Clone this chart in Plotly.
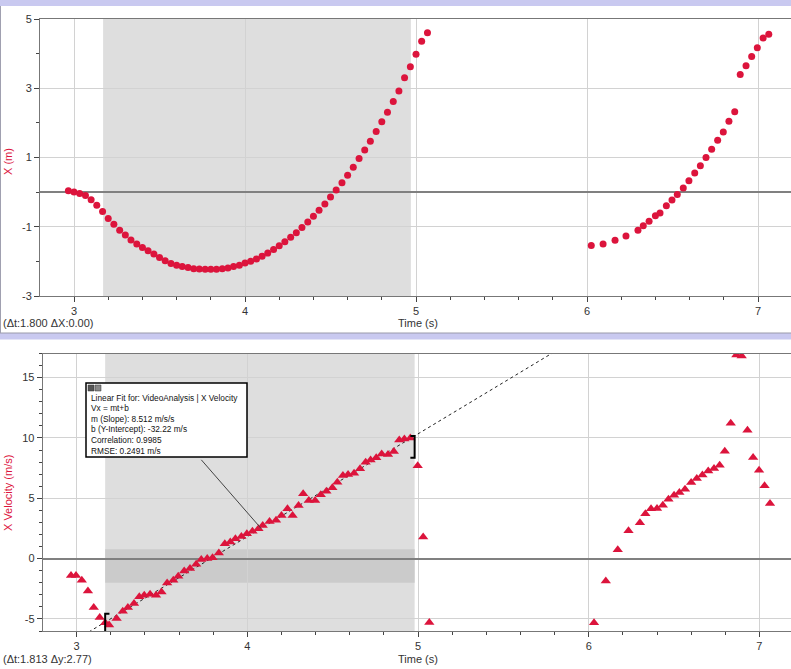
import plotly.graph_objects as go

W, H = 791, 669

# ---------------- data ----------------
# Top panel: X position (m) vs time (s)
t_pos1 = [2.967, 3.000, 3.033, 3.067, 3.100, 3.133, 3.167, 3.200, 3.233, 3.267,
          3.300, 3.333, 3.367, 3.400, 3.433, 3.467, 3.500, 3.533, 3.567, 3.600,
          3.633, 3.667, 3.700, 3.733, 3.767, 3.800, 3.833, 3.867, 3.900, 3.933,
          3.967, 4.000, 4.033, 4.067, 4.100, 4.133, 4.167, 4.200, 4.233, 4.267,
          4.300, 4.333, 4.367, 4.400, 4.433, 4.467, 4.500, 4.533, 4.567, 4.600,
          4.633, 4.667, 4.700, 4.733, 4.767, 4.800, 4.833, 4.867, 4.900, 4.933,
          4.967, 5.000, 5.033, 5.067]
x_pos1 = [0.04, 0.00, -0.04, -0.10, -0.22, -0.38, -0.56, -0.76, -0.93, -1.10,
          -1.24, -1.38, -1.50, -1.60, -1.69, -1.79, -1.89, -1.98, -2.06, -2.11,
          -2.15, -2.18, -2.21, -2.22, -2.23, -2.23, -2.23, -2.21, -2.19, -2.15,
          -2.11, -2.05, -2.00, -1.93, -1.85, -1.76, -1.66, -1.55, -1.43, -1.30,
          -1.17, -1.02, -0.86, -0.70, -0.52, -0.34, -0.14, 0.06, 0.27, 0.49,
          0.72, 0.97, 1.22, 1.47, 1.75, 2.03, 2.31, 2.62, 2.92, 3.30,
          3.62, 3.98, 4.36, 4.60]
t_pos2 = [6.025, 6.094, 6.164, 6.228, 6.298, 6.329, 6.363, 6.400, 6.427, 6.464,
          6.497, 6.528, 6.563, 6.596, 6.630, 6.663, 6.696, 6.729, 6.764, 6.797,
          6.830, 6.864, 6.896, 6.930, 6.963, 6.996, 7.030, 7.063]
x_pos2 = [-1.54, -1.50, -1.39, -1.27, -1.10, -0.97, -0.84, -0.68, -0.60, -0.39,
          -0.23, -0.07, 0.12, 0.33, 0.55, 0.76, 1.00, 1.24, 1.50, 1.74,
          2.05, 2.32, 3.40, 3.65, 3.92, 4.17, 4.45, 4.56]

# Bottom panel: X velocity (m/s) vs time (s)
t_vel1 = [2.967, 2.996, 3.030, 3.066, 3.100, 3.135, 3.167, 3.190, 3.234, 3.270,
          3.300, 3.336, 3.367, 3.396, 3.430, 3.465, 3.497, 3.530, 3.566, 3.595,
          3.630, 3.664, 3.700, 3.730, 3.765, 3.796, 3.833, 3.868, 3.900, 3.930,
          3.965, 3.997, 4.030, 4.065, 4.090, 4.130, 4.168, 4.200, 4.235, 4.265,
          4.300, 4.327, 4.360, 4.397, 4.430, 4.463, 4.498, 4.527, 4.560, 4.590,
          4.625, 4.660, 4.693, 4.722, 4.755, 4.787, 4.824, 4.858, 4.890, 4.920,
          4.955, 4.998, 5.030, 5.066]
v_vel1 = [-1.40, -1.40, -1.79, -2.68, -4.05, -4.88, -5.32, -5.51, -4.96, -4.36,
          -4.05, -3.72, -3.17, -3.03, -2.95, -3.03, -2.76, -2.02, -1.79, -1.46,
          -1.02, -0.83, -0.47, -0.08, 0.00, 0.08, 0.46, 1.24, 1.37, 1.65,
          1.84, 2.07, 2.26, 2.48, 2.75, 3.08, 3.17, 3.58, 4.13, 3.58,
          4.40, 5.37, 4.82, 4.82, 5.29, 5.59, 5.87, 6.33, 6.88, 6.97,
          7.07, 7.44, 7.98, 8.18, 8.35, 8.68, 8.62, 8.87, 9.83, 9.92,
          10.00, 7.70, 1.80, -5.30]
t_vel2 = [6.031, 6.100, 6.170, 6.233, 6.300, 6.332, 6.365, 6.400, 6.434, 6.467,
          6.500, 6.531, 6.564, 6.600, 6.633, 6.666, 6.700, 6.734, 6.767, 6.797,
          6.832, 6.865, 6.896, 6.930, 6.963, 6.998, 7.030, 7.062]
v_vel2 = [-5.32, -1.85, 0.74, 2.31, 2.98, 3.72, 4.13, 4.16, 4.43, 4.93,
          5.26, 5.48, 5.75, 6.31, 6.64, 6.94, 7.27, 7.46, 7.74, 8.89,
          11.21, 16.88, 16.80, 10.63, 8.37, 7.32, 6.03, 4.57]

# Linear fit and selections
fit_slope = 8.512
fit_intercept = -32.22
fit_start, fit_end = 3.167, 4.980
top_sel = (3.170, 4.970)
band_y = (-2.00, 0.77)

fit_lines = ["Linear Fit for: VideoAnalysis | X Velocity",
             "Vx = mt+b",
             "m (Slope): 8.512 m/s/s",
             "b (Y-Intercept): -32.22 m/s",
             "Correlation: 0.9985",
             "RMSE: 0.2491 m/s"]

top_yticks = [-3, -1, 1, 3, 5]
bot_yticks = [-5, 0, 5, 10, 15]
xticks = [3, 4, 5, 6, 7]

# ---------------- styling ----------------
RED = "#dc143c"
FONT = "Liberation Sans"
TXT = "#333333"

def px(x):
    return x / W

def py(y):
    return 1 - y / H

fig = go.Figure()

fig.add_trace(go.Scatter(x=t_pos1, y=x_pos1, mode="markers", xaxis="x", yaxis="y",
                         marker=dict(symbol="circle", size=7, color=RED)))
fig.add_trace(go.Scatter(x=t_pos2, y=x_pos2, mode="markers", xaxis="x", yaxis="y",
                         marker=dict(symbol="circle", size=7, color=RED)))

fx = [2.80, 7.20]
fig.add_trace(go.Scatter(x=fx, y=[fit_slope * v + fit_intercept for v in fx], mode="lines",
                         xaxis="x2", yaxis="y2",
                         line=dict(color="#222222", width=1, dash="dot")))

fig.add_trace(go.Scatter(x=t_vel1, y=v_vel1, mode="markers", xaxis="x2", yaxis="y2",
                         marker=dict(symbol="triangle-up", size=9, color=RED)))
fig.add_trace(go.Scatter(x=t_vel2, y=v_vel2, mode="markers", xaxis="x2", yaxis="y2",
                         marker=dict(symbol="triangle-up", size=9, color=RED)))

# brackets at fit ends
ys = fit_slope * fit_start + fit_intercept
ye = fit_slope * fit_end + fit_intercept
dx = 0.025
fig.add_trace(go.Scatter(x=[fit_start + dx, fit_start, fit_start, fit_start + dx],
                         y=[ys + 0.7, ys + 0.7, ys - 0.95, ys - 0.95], mode="lines",
                         xaxis="x2", yaxis="y2", line=dict(color="black", width=2)))
fig.add_trace(go.Scatter(x=[fit_end - dx, fit_end, fit_end, fit_end - dx],
                         y=[ye, ye, ye - 1.8, ye - 1.8], mode="lines",
                         xaxis="x2", yaxis="y2", line=dict(color="black", width=2)))

axis_common = dict(showline=True, linecolor="#777777", linewidth=1, automargin=False,
                   ticks="outside", tickcolor="#444444", ticklen=5,
                   gridcolor="#d2d2d2", gridwidth=1,
                   tickfont=dict(family=FONT, size=11, color=TXT))

shapes = [
    dict(type="rect", xref="x", yref="y domain", x0=top_sel[0], x1=top_sel[1], y0=0, y1=1,
         fillcolor="#dedede", line=dict(width=0), layer="below"),
    dict(type="rect", xref="x2", yref="y2 domain", x0=fit_start, x1=fit_end, y0=0, y1=1,
         fillcolor="#dedede", line=dict(width=0), layer="below"),
    dict(type="rect", xref="x2", yref="y2", x0=fit_start, x1=fit_end, y0=band_y[0], y1=band_y[1],
         fillcolor="#cbcbcb", line=dict(width=0), layer="below"),
    # window decorations
    dict(type="rect", xref="paper", yref="paper", x0=0, x1=1, y0=py(6), y1=1,
         fillcolor="#c9c9f0", line=dict(width=0)),
    dict(type="rect", xref="paper", yref="paper", x0=0, x1=1, y0=py(339.5), y1=py(333),
         fillcolor="#c9c9f0", line=dict(width=0)),
    dict(type="line", xref="paper", yref="paper", x0=0, x1=1, y0=py(333), y1=py(333),
         line=dict(color="#9a9aaa", width=1)),
    dict(type="line", xref="paper", yref="paper", x0=px(0.5), x1=px(0.5), y0=py(333), y1=py(6),
         line=dict(color="#a0a0b0", width=1)),
    # fit info box
    dict(type="rect", xref="paper", yref="paper", x0=px(86), x1=px(247), y0=py(457), y1=py(383),
         fillcolor="white", line=dict(color="black", width=1.5)),
    dict(type="rect", xref="paper", yref="paper", x0=px(88), x1=px(94), y0=py(391), y1=py(385),
         fillcolor="#555555", line=dict(color="#333333", width=0.5)),
    dict(type="rect", xref="paper", yref="paper", x0=px(95), x1=px(101), y0=py(391), y1=py(385),
         fillcolor="#888888", line=dict(color="#333333", width=0.5)),
]

def label(text, x, y, size=11, color=TXT, xanchor="center", angle=0):
    return dict(text=text, xref="paper", yref="paper", x=px(x), y=py(y),
                xanchor=xanchor, yanchor="middle", textangle=angle, showarrow=False,
                font=dict(family=FONT, size=size, color=color))

annotations = [
    label("Time (s)", 418, 323),
    label("Time (s)", 418, 659),
    label("(Δt:1.800 ΔX:0.00)", 1, 323, xanchor="left"),
    label("(Δt:1.813 Δy:2.77)", 1, 659, xanchor="left"),
    label("X (m)", 8, 162, color=RED, angle=-90),
    label("X Velocity (m/s)", 8, 493, color=RED, angle=-90),
    # callout line from box to fit line
    dict(text="", xref="x2", yref="y2", x=4.08, y=fit_slope * 4.08 + fit_intercept,
         ax=-61, ay=-70, showarrow=True, arrowhead=0, arrowwidth=1, arrowcolor="#444444"),
]
line_y = [398, 408, 418.5, 429, 440, 450.5]
for txt, yy in zip(fit_lines, line_y):
    annotations.append(label(txt, 89, yy, size=8.3, color="#111111", xanchor="left"))

fig.update_layout(
    width=W, height=H, margin=dict(l=0, r=0, t=0, b=0, pad=0, autoexpand=False),
    paper_bgcolor="white", plot_bgcolor="white", showlegend=False,
    xaxis=dict(domain=[px(40), 1], range=[2.801, 7.193], anchor="y",
               tickvals=xticks, mirror=True, zeroline=False,
               minor=dict(dtick=0.2, ticklen=3, tickcolor="#444444", showgrid=False),
               **axis_common),
    yaxis=dict(domain=[py(296), py(19)], range=[-3, 5], anchor="x",
               tickvals=top_yticks, ticktext=[str(v) for v in top_yticks],
               zeroline=True, zerolinecolor="#808080", zerolinewidth=1.5,
               minor=dict(dtick=1, ticklen=3, tickcolor="#444444", showgrid=False),
               **axis_common),
    xaxis2=dict(domain=[px(42.7), 1], range=[2.801, 7.185], anchor="y2",
                tickvals=xticks, mirror=True, zeroline=False,
                minor=dict(dtick=0.2, ticklen=3, tickcolor="#444444", showgrid=False),
                **axis_common),
    yaxis2=dict(domain=[py(631), py(353.5)], range=[-6, 17], anchor="x2",
                tickvals=bot_yticks, ticktext=[str(v) for v in bot_yticks],
                zeroline=True, zerolinecolor="#808080", zerolinewidth=1.5,
                minor=dict(dtick=1, ticklen=3, tickcolor="#444444", showgrid=False),
                **axis_common),
    shapes=shapes,
    annotations=annotations,
)

fig.write_html("out.html")
